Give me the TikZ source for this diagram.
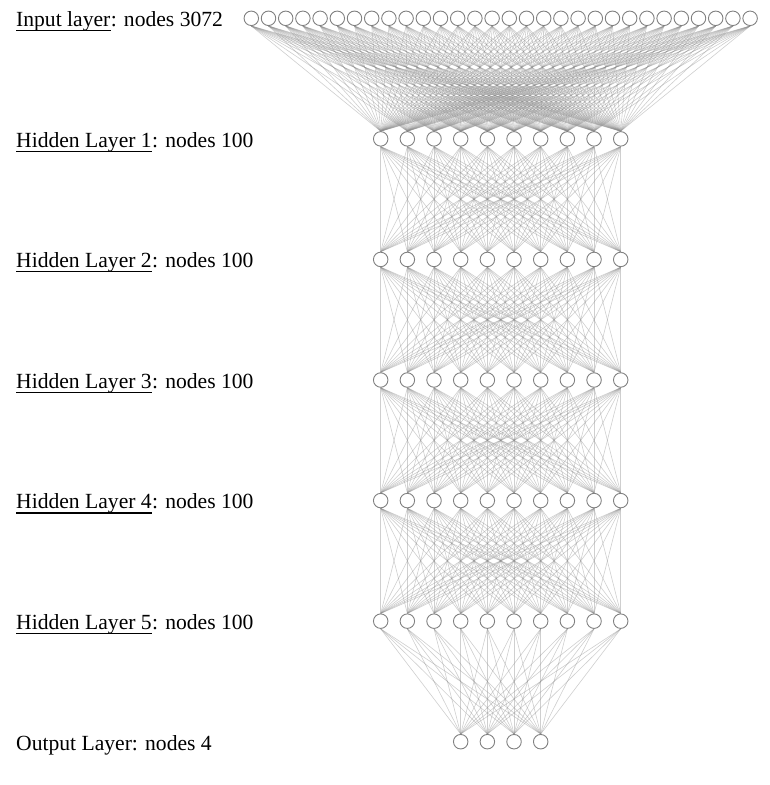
\documentclass[tikz,border=0pt]{standalone}
\usepackage{fontspec}
\setmainfont{Liberation Serif}
\usetikzlibrary{backgrounds}
\begin{document}
\begin{tikzpicture}[x=1pt,y=-1pt,
  neuron/.style={circle, draw=black!50, line width=0.9pt, fill=white, minimum size=14.5pt, inner sep=0pt},
  conn/.style={draw=black!45, opacity=0.42, line width=0.6pt},
  lbl/.style={anchor=base west, inner sep=0pt, font=\fontsize{21.6}{26}\selectfont},
  uline/.style={line width=1.3pt, black}]
\useasboundingbox (0,0) rectangle (769,785);
% neurons
\foreach \i in {1,...,30} \node[neuron] (in\i) at ({500.7+(\i-15.5)*17.2}, 18.3) {};
\foreach \l in {1,...,5} \foreach \i in {1,...,10}
  \node[neuron] (h\l-\i) at ({500.7+(\i-5.5)*26.67}, {18.3+120.57*\l}) {};
\foreach \i in {1,...,4} \node[neuron] (out\i) at ({500.7+(\i-2.5)*26.67}, 741.7) {};
% connections
\begin{scope}[on background layer]
\foreach \i in {1,...,30} \foreach \j in {1,...,10} \draw[conn] (in\i.south) -- (h1-\j.north);
\foreach \l/\m in {1/2,2/3,3/4,4/5} \foreach \i in {1,...,10} \foreach \j in {1,...,10}
  \draw[conn] (h\l-\i.south) -- (h\m-\j.north);
\foreach \i in {1,...,10} \foreach \j in {1,...,4} \draw[conn] (h5-\i.south) -- (out\j.north);
\end{scope}
% labels
\node[lbl] (t0a) at (16, 26.6) {Input layer};
\node[lbl] (t0b) at (t0a.base east) {: nodes 3072};
\draw[uline] ([yshift=-4pt]t0a.base west) -- ([yshift=-4pt]t0a.base east);
\foreach \l in {1,...,5} {
  \node[lbl] (t\l a) at (16, {26.6+120.57*\l}) {Hidden Layer \l};
  \node[lbl] (t\l b) at (t\l a.base east) {: nodes 100};
  \draw[uline] ([yshift=-4pt]t\l a.base west) -- ([yshift=-4pt]t\l a.base east);
}
\node[lbl] (t6) at (16, 750.2) {Output Layer: nodes 4};
\end{tikzpicture}
\end{document}
